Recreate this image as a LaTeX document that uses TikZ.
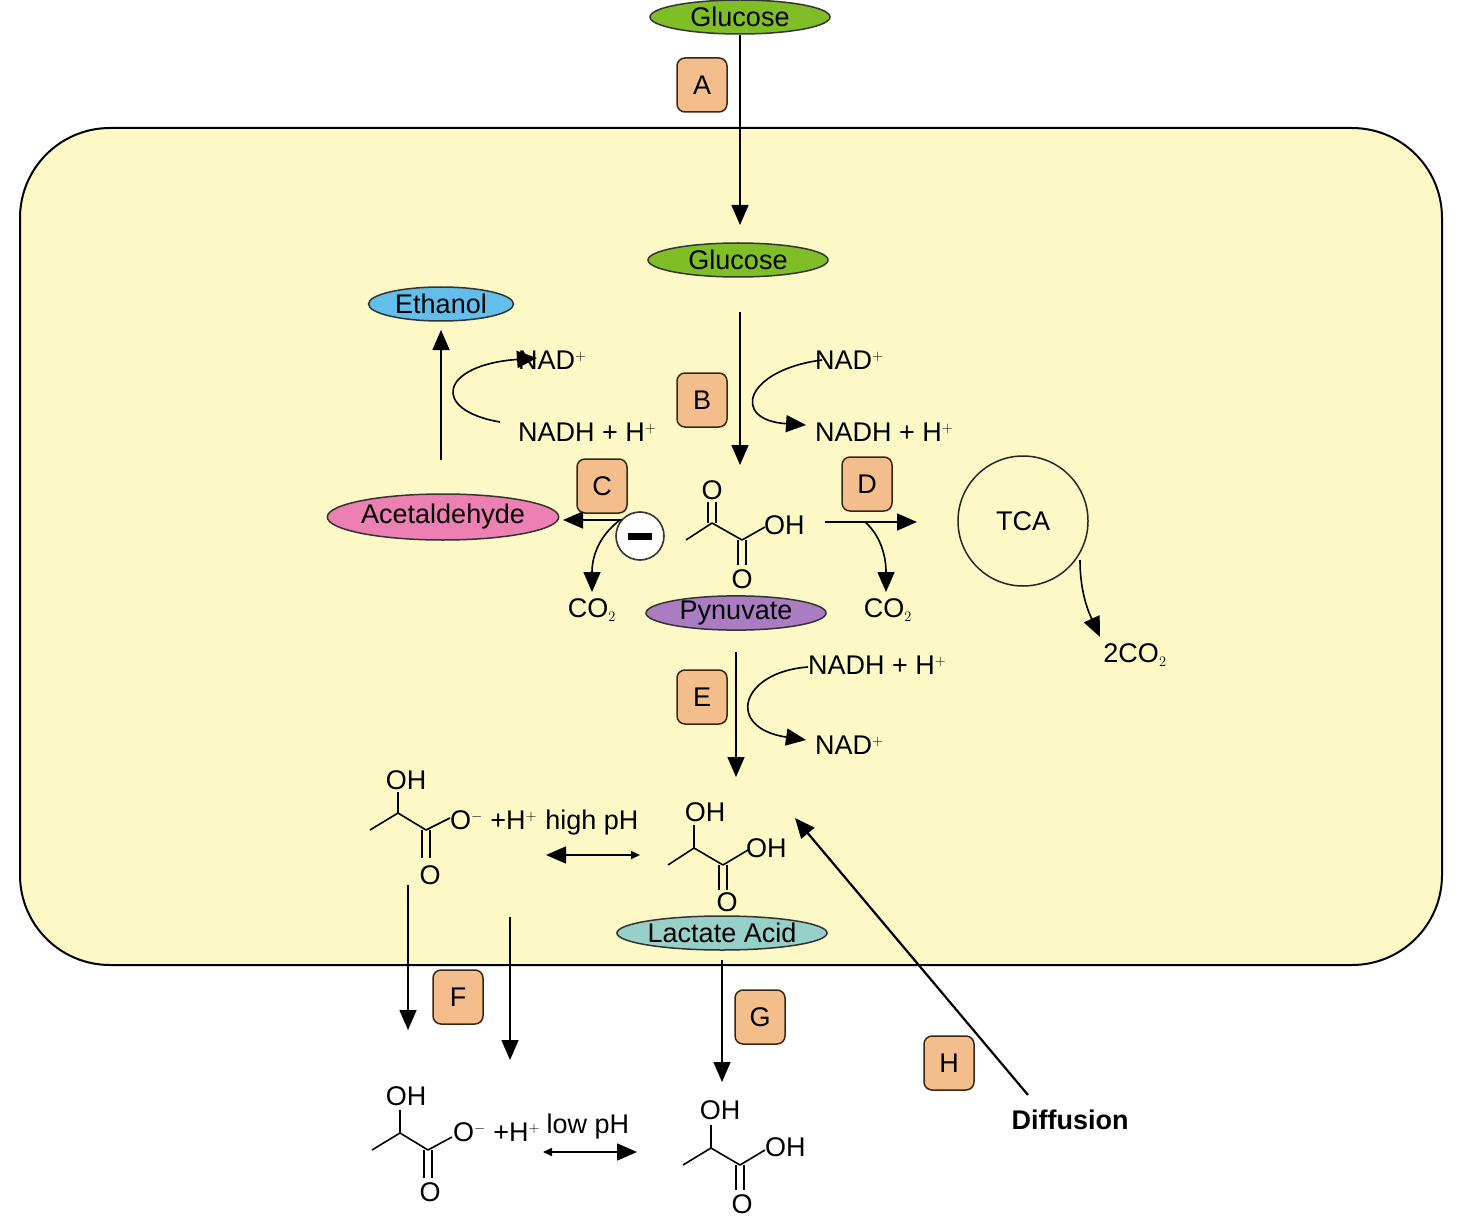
\documentclass[tikz,border=0pt]{standalone}
\usepackage{fontspec}
\setmainfont{Liberation Sans}
\usetikzlibrary{arrows.meta,shapes.geometric}
\definecolor{cellc}{RGB}{252,249,199}
\definecolor{gluc}{RGB}{128,190,40}
\definecolor{ethc}{RGB}{100,190,235}
\definecolor{acec}{RGB}{236,128,178}
\definecolor{pyrc}{RGB}{170,125,195}
\definecolor{lacc}{RGB}{150,208,200}
\definecolor{boxc}{RGB}{244,190,140}
\begin{document}
\begin{tikzpicture}[x=1pt,y=-1pt,
 every node/.style={font=\fontsize{27}{29}\selectfont, inner sep=0pt},
 ell/.style={ellipse, draw=black!80, line width=1.5pt, minimum width=#1, minimum height=34pt},
 lbl/.style={rectangle, rounded corners=8pt, draw=black!70!brown, line width=1.5pt, fill=boxc, minimum width=50pt, minimum height=54pt},
 arr/.style={line width=1.6pt, -{Triangle[length=20pt,width=17pt]}},
 ln/.style={line width=1.6pt},
 chem/.style={line width=1.6pt, line join=round},
 small/.style={font=\fontsize{25}{27}\selectfont}]
\useasboundingbox (0,0) rectangle (1466,1222);
\draw[line width=2pt, fill=cellc, rounded corners=90pt] (20,128) rectangle (1442,965);

% Glucose
\node[ell=180pt, fill=gluc] (g1) at (740,17) {Glucose};
\node[lbl] (A) at (702,85) {A};
\coordinate (a1) at (740,225);
\draw[arr] (g1) -- (a1);
\node[ell=180pt, fill=gluc] (g2) at (738,260) {Glucose};

% Ethanol branch
\node[ell=145pt, fill=ethc] (eth) at (441,304) {Ethanol};
\node[ell=185pt, minimum height=46pt, fill=acec] (ace) at (443,517) {Acetaldehyde};
\coordinate (e0) at (441,460); \coordinate (e1) at (441,330);
\draw[arr] (e0) -- (e1);
\coordinate (c1) at (500,422); \coordinate (c2) at (537,358);
\draw[arr] (c1) .. controls (430,410) and (440,365) .. (c2);
\node[anchor=west] (nad1) at (518,360) {NAD$^{\scriptscriptstyle +}$};
\node[anchor=west] (nadh1) at (518,432) {NADH + H$^{\scriptscriptstyle +}$};

% B
\node[lbl] (B) at (702,400) {B};
\coordinate (b0) at (740,312); \coordinate (b1) at (740,465);
\draw[arr] (b0) -- (b1);
\coordinate (b2) at (822,360); \coordinate (b3) at (806,425);
\draw[arr] (b2) .. controls (745,370) and (730,420) .. (b3);
\node[anchor=west] (nad2) at (815,360) {NAD$^{\scriptscriptstyle +}$};
\node[anchor=west] (nadh2) at (815,432) {NADH + H$^{\scriptscriptstyle +}$};

% C
\node[lbl] (C) at (602,486) {C};
\coordinate (cs) at (640,520); \coordinate (ce) at (563,520);
\draw[arr] (cs) -- (ce);
\coordinate (cc) at (592,592);
\draw[arr] (620,520) .. controls (600,535) and (592,555) .. (cc);
\node[circle, draw=black!80, line width=1.6pt, fill=white, minimum size=48pt] (minus) at (640,536) {};
\fill (628,533) rectangle (652,540);
\node (co2a) at (592,610) {CO$_{\scriptscriptstyle 2}$};

% Pyruvate structure
\draw[chem] (686,540) -- (712,523) -- (742,540) -- (765,527);
\draw[chem] (708,523) -- (708,502) (716,523) -- (716,502);
\draw[chem] (738,540) -- (738,565) (746,540) -- (746,565);
\node (po1) at (712,490) {O};
\node[anchor=west] (poh) at (764,525) {OH};
\node (po2) at (742,579) {O};
\node[ell=180pt, fill=pyrc] (pyr) at (736,613) {Pynuvate};

% D
\node[lbl] (D) at (867,484) {D};
\coordinate (ds) at (825,522); \coordinate (de) at (917,522);
\draw[arr] (ds) -- (de);
\coordinate (dc) at (886,592);
\draw[arr] (865,522) .. controls (880,535) and (886,555) .. (dc);
\node (co2b) at (888,610) {CO$_{\scriptscriptstyle 2}$};
\node[circle, draw=black!85, line width=1.5pt, minimum size=130pt] (tca) at (1023,521) {TCA};
\coordinate (tc) at (1100,637);
\draw[arr] (1080,560) .. controls (1080,595) and (1090,615) .. (tc);
\node (co2c) at (1135,655) {2CO$_{\scriptscriptstyle 2}$};

% E
\node[lbl] (E) at (702,697) {E};
\coordinate (e2) at (736,652); \coordinate (e3) at (736,777);
\draw[arr] (e2) -- (e3);
\coordinate (e4) at (808,667); \coordinate (e5) at (806,740);
\draw[arr] (e4) .. controls (740,672) and (725,728) .. (e5);
\node[anchor=west] (nadh3) at (808,665) {NADH + H$^{\scriptscriptstyle +}$};
\node[anchor=west] (nad3) at (815,745) {NAD$^{\scriptscriptstyle +}$};

% Lactic acid inside
\draw[chem] (668,865) -- (694,848) -- (723,865) -- (748,850);
\draw[chem] (694,848) -- (694,825);
\draw[chem] (719,865) -- (719,890) (727,865) -- (727,890);
\node (loh1) at (705,812) {OH};
\node[anchor=west] (loh2) at (746,848) {OH};
\node (lo) at (727,902) {O};
\node[ell=182pt, fill=lacc] (lac) at (722,933) {Lactate Acid};

% Lactate ion inside
\draw[chem] (370,830) -- (398,813) -- (426,830) -- (450,818);
\draw[chem] (398,813) -- (398,792);
\draw[chem] (422,830) -- (422,858) (430,830) -- (430,858);
\node (ioh) at (406,780) {OH};
\node[anchor=west] (io) at (450,820) {O$^{\scriptscriptstyle -}$ +H$^{\scriptscriptstyle +}$};
\node (io2) at (430,875) {O};
\node (hph) at (592,823) {high pH};
\coordinate (h1) at (640,855); \coordinate (h2) at (546,855);
\draw[line width=1.6pt, {Triangle[length=9pt,width=8pt]}-{Triangle[length=20pt,width=17pt]}] (h1) -- (h2);

% F
\node[lbl] (F) at (458,997) {F};
\coordinate (f1) at (408,885); \coordinate (f2) at (408,1030);
\coordinate (f3) at (510,917); \coordinate (f4) at (510,1060);
\draw[arr] (f1) -- (f2);
\draw[arr] (f3) -- (f4);

% G
\node[lbl] (G) at (760,1017) {G};
\coordinate (g3) at (722,960); \coordinate (g4) at (722,1082);
\draw[arr] (g3) -- (g4);

% H
\node[lbl] (H) at (949,1063) {H};
\node[font=\bfseries\fontsize{27}{29}\selectfont] (diff) at (1070,1120) {Diffusion};
\coordinate (h3) at (1028,1095); \coordinate (h4) at (795,818);
\draw[line width=2.2pt, -{Triangle[length=20pt,width=17pt]}] (h3) -- (h4);

% Bottom ion
\draw[chem] (372,1150) -- (400,1133) -- (428,1150) -- (452,1137);
\draw[chem] (400,1133) -- (400,1110);
\draw[chem] (424,1150) -- (424,1178) (432,1150) -- (432,1178);
\node (boh) at (406,1096) {OH};
\node[anchor=west] (bo) at (453,1132) {O$^{\scriptscriptstyle -}$ +H$^{\scriptscriptstyle +}$};
\node (bo2) at (430,1192) {O};
\node (lph) at (588,1127) {low pH};
\coordinate (l1) at (543,1152); \coordinate (l2) at (637,1152);
\draw[line width=1.6pt, {Triangle[length=9pt,width=8pt]}-{Triangle[length=20pt,width=17pt]}] (l1) -- (l2);

% Bottom acid
\draw[chem] (683,1165) -- (711,1148) -- (740,1165) -- (765,1150);
\draw[chem] (711,1148) -- (711,1125);
\draw[chem] (736,1165) -- (736,1190) (744,1165) -- (744,1190);
\node (aoh) at (720,1110) {OH};
\node[anchor=west] (aoh2) at (765,1147) {OH};
\node (ao) at (742,1204) {O};
\end{tikzpicture}
\end{document}
